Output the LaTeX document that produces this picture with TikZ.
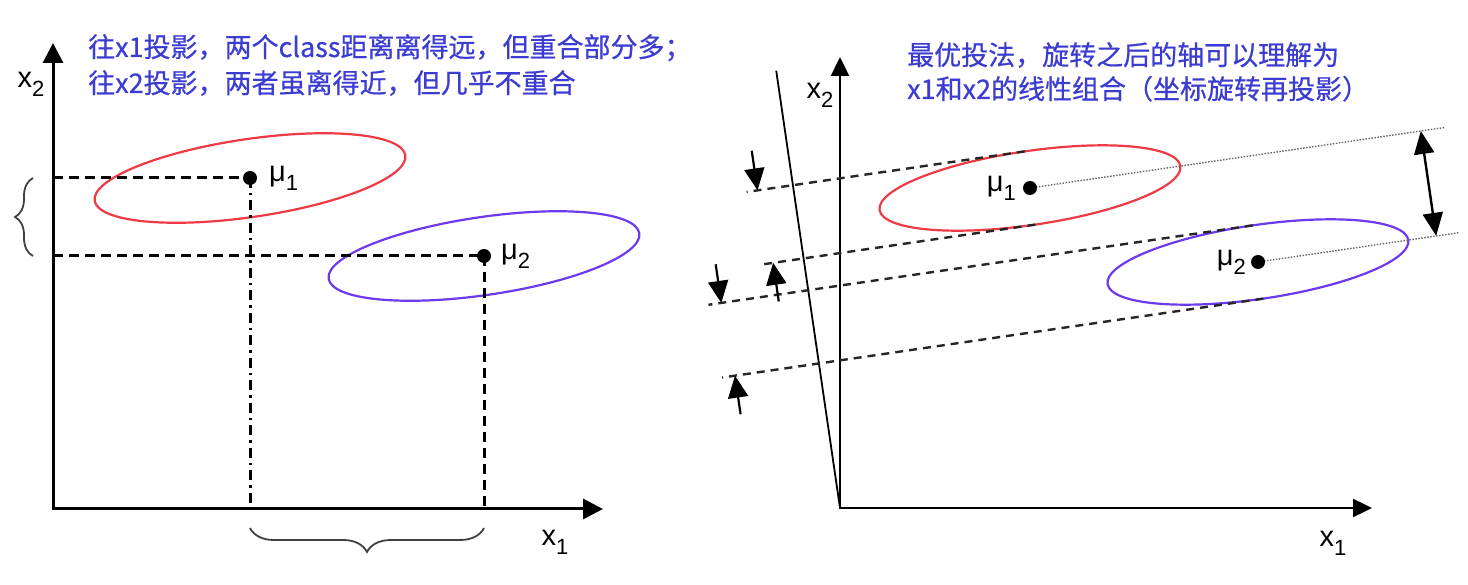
\documentclass[tikz,border=0pt]{standalone}
\usepackage{fontspec}
\setmainfont{Liberation Sans}
\newfontfamily\cjk[FakeBold=0.6]{Noto Sans CJK SC}
\usetikzlibrary{arrows.meta,positioning,calc,decorations.pathreplacing}
\definecolor{notecol}{RGB}{60,60,210}
\definecolor{ellred}{RGB}{238,58,68}
\definecolor{ellblue}{RGB}{108,58,238}
\tikzset{
    every node/.style={font=\fontsize{29}{29}\selectfont,inner sep=0pt},
}
\newcommand{\axlab}[2]{#1\raisebox{-0.3em}{\fontsize{22}{22}\selectfont #2}}

\begin{document}
\begin{tikzpicture}[x=1pt, y=1pt,
        axis/.style={{Triangle[length=20pt,width=20pt]}-{Triangle[length=20pt,width=20pt]},line width=3pt},
        raxis/.style={{Triangle[length=19pt,width=18pt]}-{Triangle[length=19pt,width=18pt]},line width=2.4pt},
        hdash/.style={line width=3pt,dash pattern=on 10pt off 6pt},
        vdashdot/.style={line width=3pt,dash pattern=on 10pt off 5pt on 2.5pt off 5pt},
        tang/.style={line width=2.4pt,dash pattern=on 8pt off 6pt,black!85},
        proj/.style={line width=1.4pt,dash pattern=on 1.5pt off 1.5pt,black!60},
        gaparrow/.style={-{Triangle[length=22pt,width=20pt]},line width=2.2pt},
        spanarrow/.style={{Triangle[length=23pt,width=20pt]}-{Triangle[length=23pt,width=20pt]},line width=2.4pt},
        cls/.style={line width=2.2pt},
        brc/.style={decorate,decoration={brace,amplitude=#1},line width=1.8pt,black!75},
        note/.style={font=\cjk\fontsize{27}{27}\selectfont,text=notecol,anchor=base west}
    ]
    \useasboundingbox (0,0) rectangle (1468,584);

    % pannello sinistro: proiezione sugli assi
    \coordinate (o1) at (53,75);
    \coordinate (m1) at (250,406);
    \coordinate (m2) at (484,328);
    \draw[axis] (53,541) -- (o1) -- (603,75);
    \draw[cls,ellred,rotate around={8.3:(m1)}] (m1) ellipse (157 and 39);
    \draw[cls,ellblue,rotate around={8.3:(m2)}] (m2) ellipse (157 and 39);

    \draw[hdash] (m1 -| o1) -- (m1);
    \draw[hdash] (m2 -| o1) -- (m2);
    \draw[vdashdot] (m1) -- (m1 |- o1);
    \draw[hdash] (m2) -- (m2 |- o1);
    \fill (m1) circle (7);
    \fill (m2) circle (7);
    \node[right=19pt of m1] (mu1) {\axlab{μ}{1}};
    \node[right=17pt of m2] (mu2) {\axlab{μ}{2}};

    % graffe
    \draw[brc=18] ($(m2 -| o1)+(-20,0)$) -- ($(m1 -| o1)+(-20,0)$);
    \draw[brc=24] ($(m2 |- o1)+(0,-19)$) -- ($(m1 |- o1)+(0,-19)$);

    \node (lx2) at (31,500) {\axlab{x}{2}};
    \node (lx1) at (555,42) {\axlab{x}{1}};
    \node[note] (n1a) at (88,527) {往x1投影，两个class距离离得远，但重合部分多；};
    \node[note] (n1b) at (88,491) {往x2投影，两者虽离得近，但几乎不重合};

    % pannello destro: asse ruotato
    \coordinate (o2) at (840,76);
    \coordinate (r1) at (1030,396);
    \coordinate (r2) at (1258,322);
    \draw[raxis] (840,527) -- (o2) -- (1372,76);
    \draw[line width=1.8pt] (o2) -- ++(98.3:442);
    \draw[cls,ellred,rotate around={8.3:(r1)}] (r1) ellipse (152 and 37);
    \draw[cls,ellblue,rotate around={8.3:(r2)}] (r2) ellipse (152 and 37);

    % proiezioni delle medie
    \draw[proj] (r1) -- ++(8.3:419);
    \draw[proj] (r2) -- ++(8.3:204);
    \draw[spanarrow] ($(r1)+(8.3:395)$) -- ++(-81.7:106);

    % tangenti alle ellissi
    \draw[tang] ($(r1)+(98.3:37)$) -- ++(188.3:281) coordinate (e1);
    \draw[tang] ($(r1)+(-81.7:37)$) -- ++(188.3:279) coordinate (e2);
    \draw[tang] ($(r2)+(98.3:37)$) -- ++(188.3:550) coordinate (e3);
    \draw[tang] ($(r2)+(-81.7:37)$) -- ++(188.3:547) coordinate (e4);
    \draw[gaparrow] ($(e1)+(8.3:11)+(98.3:40)$) -- ($(e1)+(8.3:11)$);
    \draw[gaparrow] ($(e2)+(8.3:14)+(-81.7:39)$) -- ($(e2)+(8.3:14)$);
    \draw[gaparrow] ($(e3)+(8.3:13)+(98.3:39)$) -- ($(e3)+(8.3:13)$);
    \draw[gaparrow] ($(e4)+(8.3:13)+(-81.7:39)$) -- ($(e4)+(8.3:13)$);

    \fill (r1) circle (7);
    \fill (r2) circle (7);
    \node[left=14pt of r1] (mu1r) {\axlab{μ}{1}};
    \node[left=12pt of r2] (mu2r) {\axlab{μ}{2}};

    \node (rx2) at (820,489) {\axlab{x}{2}};
    \node (rx1) at (1333,41) {\axlab{x}{1}};
    \node[note] (n2a) at (907,519) {最优投法，旋转之后的轴可以理解为};
    \node[note] (n2b) at (907,485) {x1和x2的线性组合（坐标旋转再投影）};
\end{tikzpicture}
\end{document}
